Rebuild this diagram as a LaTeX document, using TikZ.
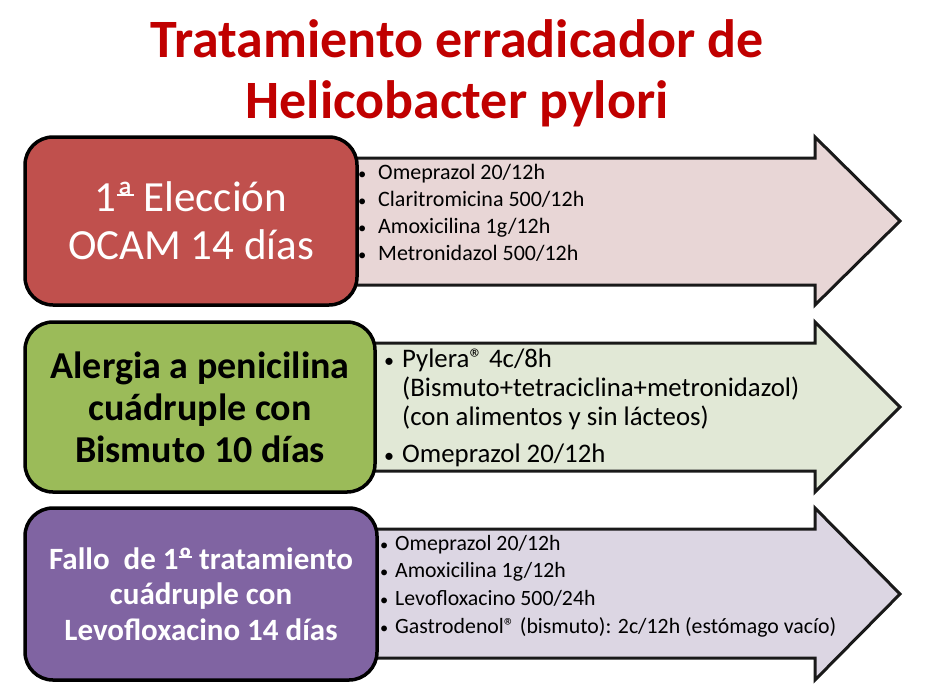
\documentclass[tikz,border=0pt]{standalone}
\usepackage{fontspec}
\setmainfont{Carlito}
\definecolor{titulo}{HTML}{C00000}
\definecolor{rojo}{HTML}{C0504D}
\definecolor{rosa}{HTML}{E8D6D6}
\definecolor{verde}{HTML}{9BBB59}
\definecolor{verdeclaro}{HTML}{E1E8D6}
\definecolor{morado}{HTML}{8064A2}
\definecolor{lila}{HTML}{DCD6E3}
\tikzset{
  pasobox/.style={draw=black, line width=3.5pt, rounded corners=28pt, align=center, inner sep=0pt},
  flecha/.style={draw=black!90, line width=3pt, line join=miter},
  listado/.style={anchor=west, align=left, inner sep=0pt, text=black}
}
\newcommand{\vin}[1]{\makebox[#1][l]{\scalebox{0.75}{\textbullet}}}
\newcommand{\ordinal}[1]{\setbox0\hbox{#1}\rlap{\usebox0}\raisebox{0.36em}{\rule{\wd0}{0.055em}}}
\begin{document}
\begin{tikzpicture}[x=1pt,y=-1pt]
  \useasboundingbox (0,0) rectangle (934,697);
  % title
  \node[text=titulo, font=\bfseries\fontsize{54}{61}\selectfont, align=center] (titulo) at (457,73)
    {Tratamiento erradicador de\\Helicobacter pylori};
  % arrows behind the boxes
  \draw[flecha, fill=rosa] (300,158) -- (815,158) -- (815,137) -- (900,221) -- (815,305) -- (815,285) -- (300,285) -- cycle;
  \draw[flecha, fill=verdeclaro] (300,343) -- (815,343) -- (815,322) -- (900,407) -- (815,492) -- (815,471) -- (300,471) -- cycle;
  \draw[flecha, fill=lila] (300,529) -- (815,529) -- (815,508) -- (900,594) -- (815,680) -- (815,658) -- (300,658) -- cycle;
  % boxes
  \node[pasobox, fill=rojo, minimum width=332pt, minimum height=168pt, text=white,
        font=\fontsize{43}{48}\selectfont] (eleccion) at (191,221) {1\ordinal{ª} Elección\\OCAM 14 días};
  \node[pasobox, fill=verde, minimum width=350pt, minimum height=170pt, text=black,
        font=\bfseries\fontsize{38}{42}\selectfont] (alergia) at (200,407) {Alergia a penicilina\\cuádruple con\\Bismuto 10 días};
  \node[pasobox, fill=morado, minimum width=352pt, minimum height=172pt, text=white,
        font=\bfseries\fontsize{31}{35.5}\selectfont] (fallo) at (201,594) {Fallo~ de 1\ordinal{º} tratamiento\\cuádruple con\\Levofloxacino 14 días};
  % lists
  \node[listado, font=\fontsize{22}{27}\selectfont] (lista1) at (358,213)
    {\vin{20pt}Omeprazol 20/12h\\\vin{20pt}Claritromicina 500/12h\\\vin{20pt}Amoxicilina 1g/12h\\\vin{20pt}Metronidazol 500/12h};
  \node[listado, font=\fontsize{26.8}{29}\selectfont] (lista2) at (384,408)
    {\vin{18pt}Pylera® 4c/8h\\\hspace*{18pt}(Bismuto+tetraciclina+metronidazol)\\\hspace*{18pt}(con alimentos y sin lácteos)\\[8pt]\vin{18pt}Omeprazol 20/12h};
  \node[listado, font=\fontsize{21.8}{27.7}\selectfont] (lista3) at (380,586)
    {\vin{15pt}Omeprazol 20/12h\\\vin{15pt}Amoxicilina 1g/12h\\\vin{15pt}Levofloxacino 500/24h\\\vin{15pt}Gastrodenol® (bismuto): 2c/12h (estómago vacío)};
\end{tikzpicture}
\end{document}
